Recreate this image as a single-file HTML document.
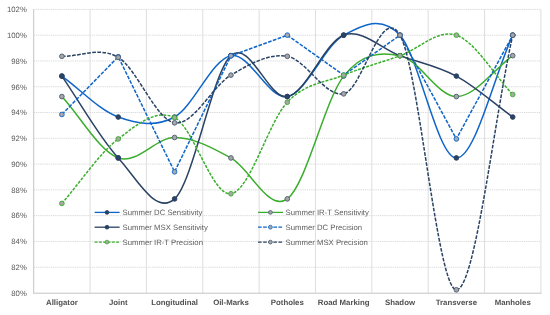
<!DOCTYPE html>
<html><head><meta charset="utf-8"><title>Chart</title>
<style>html,body{margin:0;padding:0;background:#fff;}svg{display:block;}text{font-family:"Liberation Sans",sans-serif;text-rendering:geometricPrecision;}</style></head><body>
<svg width="550" height="315" viewBox="0 0 550 315">
<rect width="550" height="315" fill="#ffffff"/>
<g stroke="#dcdcdc" stroke-width="1" stroke-dasharray="1.4 0.75" fill="none">
<line x1="33.7" y1="267.22" x2="540.9" y2="267.22"/>
<line x1="33.7" y1="241.44" x2="540.9" y2="241.44"/>
<line x1="33.7" y1="215.65" x2="540.9" y2="215.65"/>
<line x1="33.7" y1="189.87" x2="540.9" y2="189.87"/>
<line x1="33.7" y1="164.09" x2="540.9" y2="164.09"/>
<line x1="33.7" y1="138.31" x2="540.9" y2="138.31"/>
<line x1="33.7" y1="112.53" x2="540.9" y2="112.53"/>
<line x1="33.7" y1="86.75" x2="540.9" y2="86.75"/>
<line x1="33.7" y1="60.96" x2="540.9" y2="60.96"/>
<line x1="33.7" y1="35.18" x2="540.9" y2="35.18"/>
<line x1="33.7" y1="9.40" x2="540.9" y2="9.40"/>
</g>
<g stroke="#dfdfdf" stroke-width="1.05" fill="none">
<line x1="90.06" y1="9.4" x2="90.06" y2="293.0"/>
<line x1="146.41" y1="9.4" x2="146.41" y2="293.0"/>
<line x1="202.77" y1="9.4" x2="202.77" y2="293.0"/>
<line x1="259.12" y1="9.4" x2="259.12" y2="293.0"/>
<line x1="315.48" y1="9.4" x2="315.48" y2="293.0"/>
<line x1="371.83" y1="9.4" x2="371.83" y2="293.0"/>
<line x1="428.19" y1="9.4" x2="428.19" y2="293.0"/>
<line x1="484.54" y1="9.4" x2="484.54" y2="293.0"/>
<line x1="540.90" y1="9.4" x2="540.90" y2="293.0"/>
</g>
<g stroke="#c4c4c4" stroke-width="1" fill="none">
<line x1="33.70" y1="9.4" x2="33.70" y2="293.5"/>
<line x1="33.20" y1="293.2" x2="541.50" y2="293.2"/>
</g>
<g font-size="7.75" fill="#595959" text-anchor="end">
<text x="26.8" y="295.80">80%</text>
<text x="26.8" y="270.02">82%</text>
<text x="26.8" y="244.24">84%</text>
<text x="26.8" y="218.45">86%</text>
<text x="26.8" y="192.67">88%</text>
<text x="26.8" y="166.89">90%</text>
<text x="26.8" y="141.11">92%</text>
<text x="26.8" y="115.33">94%</text>
<text x="26.8" y="89.55">96%</text>
<text x="26.8" y="63.76">98%</text>
<text x="26.8" y="37.98">100%</text>
<text x="26.8" y="12.20">102%</text>
</g>
<g font-size="7.82" font-weight="bold" fill="#505050" text-anchor="middle">
<text x="61.88" y="304.9">Alligator</text>
<text x="118.23" y="304.9">Joint</text>
<text x="174.59" y="304.9">Longitudinal</text>
<text x="230.94" y="304.9">Oil-Marks</text>
<text x="287.30" y="304.9">Potholes</text>
<text x="343.66" y="304.9">Road Marking</text>
<text x="400.01" y="304.9">Shadow</text>
<text x="456.37" y="304.9">Transverse</text>
<text x="512.72" y="304.9">Manholes</text>
</g>
<path d="M61.88 76.11 C80.66 89.75 99.45 110.21 118.23 117.03 C137.02 123.85 155.80 127.26 174.59 117.03 C193.37 106.80 212.16 59.05 230.94 55.64 C249.73 52.23 268.51 99.98 287.30 96.57 C306.09 93.16 324.87 45.41 343.66 35.18 C362.44 24.95 381.23 14.72 400.01 35.18 C418.80 55.64 437.58 157.95 456.37 157.95 C475.15 157.95 493.94 76.11 512.72 35.18" fill="none" stroke="#0f65c8" stroke-width="1.5" stroke-linejoin="round"/>
<g fill="#2a4263" stroke="#2a4263" stroke-width="0.9">
<circle cx="61.88" cy="76.11" r="2.35"/>
<circle cx="118.23" cy="117.03" r="2.35"/>
<circle cx="174.59" cy="117.03" r="2.35"/>
<circle cx="230.94" cy="55.64" r="2.35"/>
<circle cx="287.30" cy="96.57" r="2.35"/>
<circle cx="343.66" cy="35.18" r="2.35"/>
<circle cx="400.01" cy="35.18" r="2.35"/>
<circle cx="456.37" cy="157.95" r="2.35"/>
<circle cx="512.72" cy="35.18" r="2.35"/>
</g>
<path d="M61.88 96.57 C80.66 117.03 99.45 151.13 118.23 157.95 C137.02 164.77 155.80 137.49 174.59 137.49 C193.37 137.49 212.16 147.72 230.94 157.95 C249.73 168.18 268.51 212.52 287.30 198.88 C306.09 185.23 324.87 99.98 343.66 76.11 C362.44 52.23 381.23 52.23 400.01 55.64 C418.80 59.05 437.58 96.57 456.37 96.57 C475.15 96.57 493.94 69.28 512.72 55.64" fill="none" stroke="#3aad2c" stroke-width="1.5" stroke-linejoin="round"/>
<g fill="#a6a6a6" stroke="#4a5a72" stroke-width="0.9">
<circle cx="61.88" cy="96.57" r="2.35"/>
<circle cx="118.23" cy="157.95" r="2.35"/>
<circle cx="174.59" cy="137.49" r="2.35"/>
<circle cx="230.94" cy="157.95" r="2.35"/>
<circle cx="287.30" cy="198.88" r="2.35"/>
<circle cx="343.66" cy="76.11" r="2.35"/>
<circle cx="400.01" cy="55.64" r="2.35"/>
<circle cx="456.37" cy="96.57" r="2.35"/>
<circle cx="512.72" cy="55.64" r="2.35"/>
</g>
<path d="M61.88 76.11 C80.66 103.39 99.45 137.49 118.23 157.95 C137.02 178.41 155.80 215.93 174.59 198.88 C193.37 181.82 212.16 72.70 230.94 55.64 C249.73 38.59 268.51 99.98 287.30 96.57 C306.09 93.16 324.87 42.00 343.66 35.18 C362.44 28.36 381.23 48.82 400.01 55.64 C418.80 62.46 437.58 65.87 456.37 76.11 C475.15 86.34 493.94 103.39 512.72 117.03" fill="none" stroke="#2a4263" stroke-width="1.5" stroke-linejoin="round"/>
<g fill="#2a4263" stroke="#2a4263" stroke-width="0.9">
<circle cx="61.88" cy="76.11" r="2.35"/>
<circle cx="118.23" cy="157.95" r="2.35"/>
<circle cx="174.59" cy="198.88" r="2.35"/>
<circle cx="230.94" cy="55.64" r="2.35"/>
<circle cx="287.30" cy="96.57" r="2.35"/>
<circle cx="343.66" cy="35.18" r="2.35"/>
<circle cx="400.01" cy="55.64" r="2.35"/>
<circle cx="456.37" cy="76.11" r="2.35"/>
<circle cx="512.72" cy="117.03" r="2.35"/>
</g>
<path d="M61.88 114.46 L118.23 56.71 L174.59 171.83 L230.94 55.81 L287.30 35.18 L343.66 75.14 L400.01 35.18 L456.37 138.95 L512.72 35.18" fill="none" stroke="#0f65c8" stroke-width="1.5" stroke-dasharray="3.7 1.4" stroke-linejoin="round"/>
<g fill="#a9a9a9" stroke="#0f65c8" stroke-width="0.9">
<circle cx="61.88" cy="114.46" r="2.35"/>
<circle cx="118.23" cy="56.71" r="2.35"/>
<circle cx="174.59" cy="171.83" r="2.35"/>
<circle cx="230.94" cy="55.81" r="2.35"/>
<circle cx="287.30" cy="35.18" r="2.35"/>
<circle cx="343.66" cy="75.14" r="2.35"/>
<circle cx="400.01" cy="35.18" r="2.35"/>
<circle cx="456.37" cy="138.95" r="2.35"/>
<circle cx="512.72" cy="35.18" r="2.35"/>
</g>
<path d="M61.88 203.41 C80.66 181.92 99.45 153.24 118.23 138.95 C137.02 124.67 155.80 108.55 174.59 117.68 C193.37 126.81 212.16 196.32 230.94 193.74 C249.73 191.16 268.51 121.98 287.30 102.21 C306.09 82.45 324.87 82.88 343.66 75.14 C362.44 67.41 381.23 62.47 400.01 55.81 C418.80 49.15 437.58 28.74 456.37 35.18 C475.15 41.63 493.94 74.71 512.72 94.48" fill="none" stroke="#3aad2c" stroke-width="1.5" stroke-dasharray="3.0 1.3" stroke-linejoin="round"/>
<g fill="#a6a9a3" stroke="#3aad2c" stroke-width="0.9">
<circle cx="61.88" cy="203.41" r="2.35"/>
<circle cx="118.23" cy="138.95" r="2.35"/>
<circle cx="174.59" cy="117.68" r="2.35"/>
<circle cx="230.94" cy="193.74" r="2.35"/>
<circle cx="287.30" cy="102.21" r="2.35"/>
<circle cx="343.66" cy="75.14" r="2.35"/>
<circle cx="400.01" cy="55.81" r="2.35"/>
<circle cx="456.37" cy="35.18" r="2.35"/>
<circle cx="512.72" cy="94.48" r="2.35"/>
</g>
<path d="M61.88 56.32 C80.66 56.67 99.45 46.27 118.23 57.35 C137.02 68.44 155.80 119.88 174.59 122.84 C193.37 125.80 212.16 86.23 230.94 75.14 C249.73 64.06 268.51 53.21 287.30 56.32 C306.09 59.44 324.87 97.36 343.66 93.84 C362.44 90.31 381.23 2.52 400.01 35.18 C418.80 67.84 437.58 289.78 456.37 289.78 C475.15 289.78 493.94 120.05 512.72 35.18" fill="none" stroke="#2a4263" stroke-width="1.5" stroke-dasharray="3.7 1.4" stroke-linejoin="round"/>
<g fill="#a6a6a6" stroke="#4a5a72" stroke-width="0.9">
<circle cx="61.88" cy="56.32" r="2.35"/>
<circle cx="118.23" cy="57.35" r="2.35"/>
<circle cx="174.59" cy="122.84" r="2.35"/>
<circle cx="230.94" cy="75.14" r="2.35"/>
<circle cx="287.30" cy="56.32" r="2.35"/>
<circle cx="343.66" cy="93.84" r="2.35"/>
<circle cx="400.01" cy="35.18" r="2.35"/>
<circle cx="456.37" cy="289.78" r="2.35"/>
<circle cx="512.72" cy="35.18" r="2.35"/>
</g>
<g font-size="7.76" fill="#5e5e5e">
<line x1="94.6" y1="212.4" x2="119.6" y2="212.4" stroke="#0f65c8" stroke-width="1.3"/>
<circle cx="107.0" cy="212.4" r="1.9" fill="#2a4263" stroke="#2a4263" stroke-width="0.8"/>
<text x="122.6" y="215.1">Summer DC Sensitivity</text>
<line x1="258.0" y1="212.4" x2="283.0" y2="212.4" stroke="#3aad2c" stroke-width="1.3"/>
<circle cx="270.4" cy="212.4" r="1.9" fill="#a6a6a6" stroke="#4a5a72" stroke-width="0.8"/>
<text x="285.5" y="215.1">Summer IR-T Sensitivity</text>
<line x1="94.6" y1="227.2" x2="119.6" y2="227.2" stroke="#2a4263" stroke-width="1.3"/>
<circle cx="107.0" cy="227.2" r="1.9" fill="#2a4263" stroke="#2a4263" stroke-width="0.8"/>
<text x="122.6" y="229.9">Summer MSX Sensitivity</text>
<line x1="258.0" y1="227.2" x2="283.0" y2="227.2" stroke="#0f65c8" stroke-width="1.3" stroke-dasharray="3.7 1.4"/>
<circle cx="270.4" cy="227.2" r="1.9" fill="#a9a9a9" stroke="#0f65c8" stroke-width="0.8"/>
<text x="285.5" y="229.9">Summer DC Precision</text>
<line x1="94.6" y1="242.1" x2="119.6" y2="242.1" stroke="#3aad2c" stroke-width="1.3" stroke-dasharray="3.0 1.3"/>
<circle cx="107.0" cy="242.1" r="1.9" fill="#a6a9a3" stroke="#3aad2c" stroke-width="0.8"/>
<text x="122.6" y="244.8">Summer IR-T Precision</text>
<line x1="258.0" y1="242.1" x2="283.0" y2="242.1" stroke="#2a4263" stroke-width="1.3" stroke-dasharray="3.7 1.4"/>
<circle cx="270.4" cy="242.1" r="1.9" fill="#a6a6a6" stroke="#4a5a72" stroke-width="0.8"/>
<text x="285.5" y="244.8">Summer MSX Precision</text>
</g>
</svg></body></html>
